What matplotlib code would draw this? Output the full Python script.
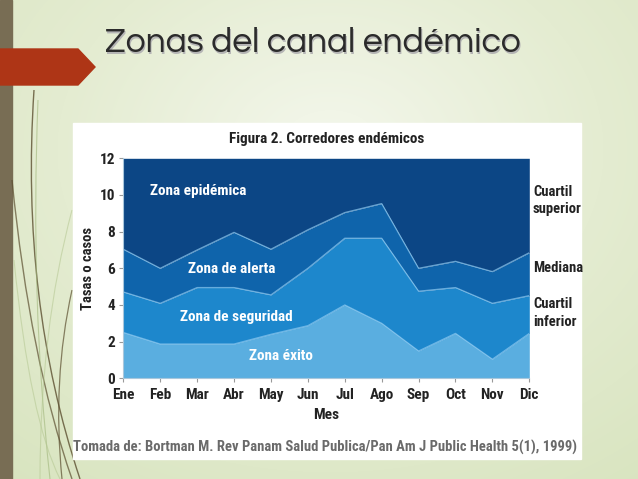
import numpy as np
import matplotlib.pyplot as plt
from matplotlib.colors import LinearSegmentedColormap
from matplotlib.patches import Rectangle, Polygon, PathPatch
from matplotlib.path import Path

# Datos del canal endémico
meses = ["Ene", "Feb", "Mar", "Abr", "May", "Jun", "Jul", "Ago", "Sep", "Oct", "Nov", "Dic"]
cuartil_inferior = [2.5, 1.87, 1.87, 1.87, 2.4, 2.87, 4.0, 3.0, 1.49, 2.45, 1.04, 2.45]
mediana = [4.71, 4.09, 4.95, 4.95, 4.55, 6.0, 7.64, 7.64, 4.75, 4.95, 4.09, 4.51]
cuartil_superior = [7.04, 6.0, 7.0, 7.96, 7.04, 8.1, 9.04, 9.53, 6.0, 6.38, 5.82, 6.85]
y_max = 12

col_exito = "#5aaee0"
col_seguridad = "#1d87cc"
col_alerta = "#0f64ab"
col_epidemica = "#0c4685"

narrow = ["Roboto Condensed", "Archivo Narrow", "DejaVu Sans"]
gothic = ["Questrial", "Mulish", "DejaVu Sans"]

fig = plt.figure(figsize=(6.38, 4.79), dpi=100)

# fondo de la diapositiva
bg = fig.add_axes([0, 0, 1, 1])
bg.set_xlim(0, 638)
bg.set_ylim(479, 0)
bg.axis("off")
yy, xx = np.mgrid[0:479, 0:638]
grad = np.hypot((xx - 330) / 420, (yy - 150) / 330)
bg.imshow(grad, cmap=LinearSegmentedColormap.from_list("slide", ["#f4f7ec", "#e4ecd1", "#d8e4bf"]),
          extent=[0, 638, 479, 0], vmin=0, vmax=1.3, aspect="auto", zorder=0)
bg.add_patch(Rectangle((0, 0), 12, 479, color="#786d54", zorder=1))

# líneas decorativas
def curva(p0, p1, p2, color, lw, alpha):
    path = Path([p0, p1, p2], [Path.MOVETO, Path.CURVE3, Path.CURVE3])
    bg.add_patch(PathPatch(path, fill=False, edgecolor=color, lw=lw, alpha=alpha, zorder=2))

curva((34, 90), (20, 300), (80, 479), "#5c4f30", 1.0, 0.8)
curva((12, 180), (30, 360), (72, 479), "#5c4f30", 1.0, 0.7)
curva((72, 290), (52, 380), (62, 479), "#5c4f30", 0.9, 0.7)
curva((38, 100), (30, 300), (50, 479), "#9fb57a", 0.8, 0.6)
curva((72, 210), (40, 330), (40, 479), "#b7c995", 0.8, 0.6)
curva((14, 260), (30, 420), (60, 479), "#b7c995", 0.8, 0.6)

# flecha roja
bg.add_patch(Polygon([(0, 49), (78, 49), (95, 67), (78, 85), (0, 85)],
                     closed=True, color="#ae3516", zorder=3))

titulo = "Zonas del canal endémico"
fig.text(106.5 / 638, 1 - 44.5 / 479, titulo, fontsize=25.5, family=gothic, color="#b5b5b5",
         va="center", ha="left", zorder=4)
fig.text(105 / 638, 1 - 43 / 479, titulo, fontsize=25.5, family=gothic, color="#2b2b2b",
         va="center", ha="left", zorder=5)

# recuadro blanco de la figura
bg.add_patch(Rectangle((73, 123), 508, 336, color="white", zorder=4))

ax = fig.add_axes([123.3 / 638, 1 - 378.3 / 479, 406 / 638, 220 / 479])
x = np.arange(len(meses))
ax.fill_between(x, 0, cuartil_inferior, color=col_exito, lw=0)
ax.fill_between(x, cuartil_inferior, mediana, color=col_seguridad, lw=0)
ax.fill_between(x, mediana, cuartil_superior, color=col_alerta, lw=0)
ax.fill_between(x, cuartil_superior, y_max, color=col_epidemica, lw=0)
for serie in (cuartil_inferior, mediana, cuartil_superior):
    ax.plot(x, serie, color="#8ccaf2", lw=0.9, alpha=0.7)

ax.set_xlim(0, len(meses) - 1)
ax.set_ylim(0, y_max)
ax.set_xticks(x)
ax.set_xticklabels(meses)
ax.set_yticks(range(0, 13, 2))
for lab in ax.get_xticklabels() + ax.get_yticklabels():
    lab.set_family(narrow)
    lab.set_fontweight("bold")
    lab.set_fontsize(11)
    lab.set_color("#222222")
ax.tick_params(length=3, color="#999999", width=0.8, pad=4)
ax.tick_params(axis="y", pad=3)
for s in ("top", "right"):
    ax.spines[s].set_visible(False)
for s in ("left", "bottom"):
    ax.spines[s].set_color("#a9c7dc")
    ax.spines[s].set_linewidth(0.8)

ax.set_xlabel("Mes", family=narrow, fontweight="bold", fontsize=11, color="#222222", labelpad=4)
ax.set_ylabel("Tasas o casos", family=narrow, fontweight="bold", fontsize=10.5, color="#222222", labelpad=3)
ax.set_title("Figura 2. Corredores endémicos", family=narrow, fontweight="bold", fontsize=11,
             color="#222222", pad=11)

zona_kw = dict(family=narrow, fontweight="bold", fontsize=11, color="white", ha="center", va="center")
ax.text(2.02, 10.2, "Zona epidémica", **zona_kw)
ax.text(2.95, 5.96, "Zona de alerta", **zona_kw)
ax.text(3.05, 3.34, "Zona de seguridad", **zona_kw)
ax.text(4.27, 1.22, "Zona éxito", **zona_kw)

lado_kw = dict(family=narrow, fontweight="bold", fontsize=10.5, color="#222222",
               ha="left", va="center", clip_on=False, linespacing=1.35)
ax.text(11.1, 9.7, "Cuartil\nsuperior", **lado_kw)
ax.text(11.1, 6.0, "Mediana", **lado_kw)
ax.text(11.1, 3.55, "Cuartil\ninferior", **lado_kw)

fig.text(73 / 638, 1 - 447 / 479,
         "Tomada de: Bortman M. Rev Panam Salud Publica/Pan Am J Public Health 5(1), 1999)",
         family=narrow, fontweight="bold", fontsize=10.5, color="#6a6a6a", ha="left", va="center")

fig.savefig("out.png", dpi=100)
